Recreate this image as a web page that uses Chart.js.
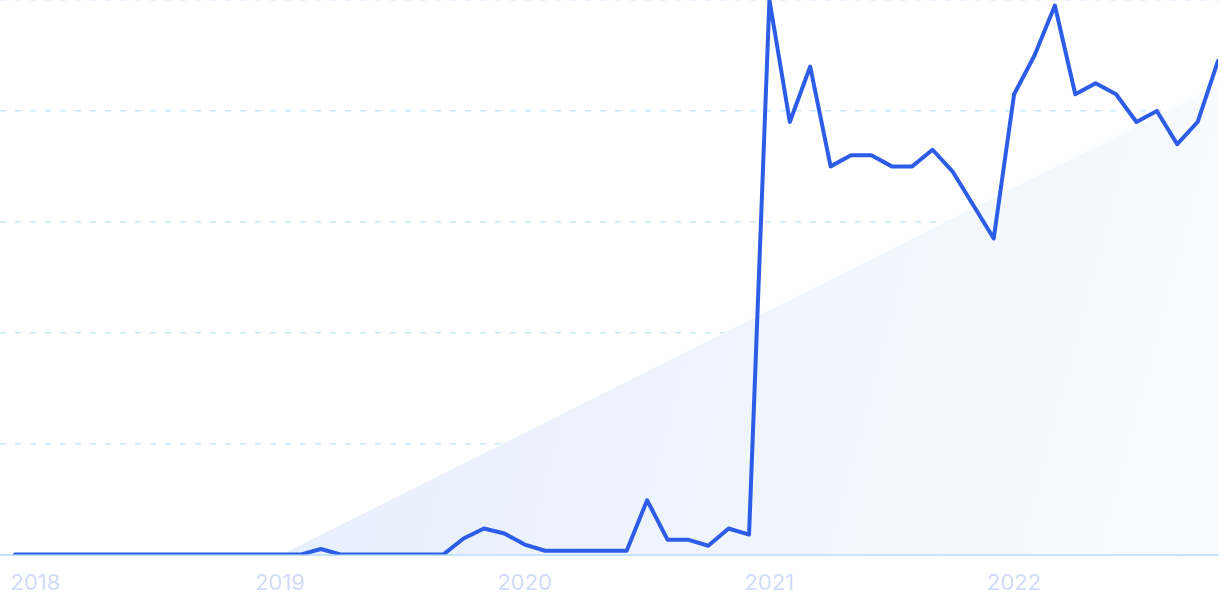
<!DOCTYPE html>
<html>
<head>
<meta charset="utf-8">
<script src="https://cdn.jsdelivr.net/npm/chart.js@4.4.1/dist/chart.umd.min.js"></script>
<style>
  html, body { margin: 0; padding: 0; background: #fff; }
  #wrap { width: 1222px; height: 610px; position: relative; }
</style>
</head>
<body>
<div id="wrap"><canvas id="trend"></canvas></div>
<script>
// monthly interest, Dec 2017 .. Nov 2022 (index 0 = Dec 2017)
const interest = [
  0, 0, 0, 0, 0, 0, 0, 0, 0, 0, 0, 0, 0, 0, 0,
  1, 0, 0, 0, 0, 0, 0,
  2.9, 4.7, 3.8, 1.8, 0.7, 0.7, 0.7, 0.7, 0.7, 9.8, 2.7, 2.7, 1.6, 4.7, 3.6,
  100, 78, 88, 70, 72, 72, 70, 70, 73, 69, 63, 57,
  83, 90, 99, 83, 85, 83, 78, 80, 74, 78, 89
];

// year labels and the month index each one sits on
const yearLabels = ['2018', '2019', '2020', '2021', '2022'];
const yearIdx = [1, 13, 25, 37, 49];

// faint background wedge (start and end of its sloped edge)
const wedgeX = [13.1, 59];
const wedgeY = [0, 84.6];

const yTicks = [0, 20, 40, 60, 80, 100];

const lineData = interest.map((v, i) => ({ x: i, y: v }));
const wedgeData = wedgeX.map((x, i) => ({ x: x, y: wedgeY[i] }));

function wedgeFill(context) {
  const chart = context.chart;
  const area = chart.chartArea;
  if (!area) return '#ebf2fc';
  const x0 = chart.scales.x.getPixelForValue(wedgeX[0]);
  const g = chart.ctx.createLinearGradient(x0, area.top + area.height * 0.55, area.right, area.bottom);
  g.addColorStop(0, '#e5eefc');
  g.addColorStop(1, '#fafcff');
  return g;
}

new Chart(document.getElementById('trend'), {
  type: 'line',
  data: {
    datasets: [{
      data: lineData,
      borderColor: '#2d5de6',
      borderWidth: 4,
      borderJoinStyle: 'round',
      borderCapStyle: 'round',
      pointRadius: 0,
      tension: 0,
      fill: false,
      order: 0
    }, {
      data: wedgeData,
      borderColor: 'rgba(0,0,0,0)',
      borderWidth: 0,
      pointRadius: 0,
      backgroundColor: wedgeFill,
      fill: 'origin',
      order: 1
    }]
  },
  options: {
    responsive: true,
    maintainAspectRatio: false,
    animation: false,
    layout: { padding: { left: 0, right: 4, top: 0, bottom: 5 } },
    plugins: {
      legend: { display: false },
      tooltip: { enabled: false }
    },
    scales: {
      x: {
        type: 'linear',
        min: -0.736,
        max: 59,
        afterBuildTicks: axis => {
          axis.ticks = yearIdx.map(v => ({ value: v }));
        },
        grid: { display: false },
        border: { display: true, color: '#c2e3fa', width: 2 },
        ticks: {
          autoSkip: false,
          maxRotation: 0,
          padding: 8,
          color: '#d0dbf5',
          font: { family: 'Inter, sans-serif', size: 22 },
          callback: value => {
            const k = yearIdx.indexOf(value);
            return k >= 0 ? yearLabels[k] : '';
          }
        }
      },
      y: {
        min: 0,
        max: 100,
        afterBuildTicks: axis => {
          axis.ticks = yTicks.map(v => ({ value: v }));
        },
        ticks: { display: false },
        grid: {
          drawTicks: false,
          lineWidth: 1.5,
          color: ctx => (ctx.tick && ctx.tick.value === 0) ? 'rgba(0,0,0,0)' : '#c9e8f7'
        },
        border: { display: false, dash: [6, 9] }
      }
    }
  }
});
</script>
</body>
</html>
